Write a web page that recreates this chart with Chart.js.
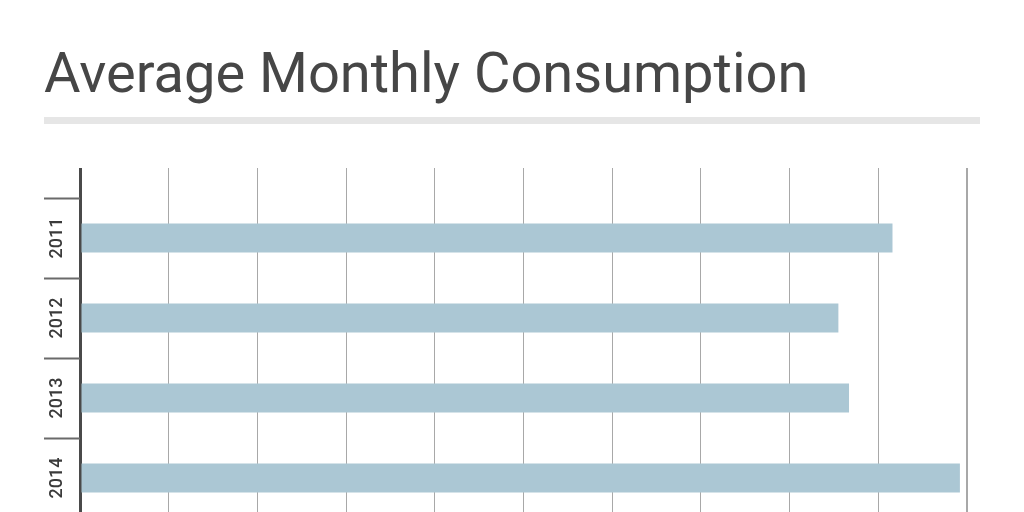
<!DOCTYPE html>
<html>
<head>
<meta charset="utf-8">
<script src="https://cdn.jsdelivr.net/npm/chart.js@4/dist/chart.umd.min.js"></script>
<style>
  html, body { margin: 0; padding: 0; background: #fff; overflow: hidden; }
  #title {
    position: absolute; left: 44px; top: 45px;
    font-family: Roboto, sans-serif; font-size: 56px; line-height: 1;
    color: #464646; white-space: nowrap; margin: 0; font-weight: 400;
  }
  #rule { position: absolute; left: 44px; top: 117px; width: 936px; height: 7px; background: #e6e6e6; }
  #wrap { position: absolute; left: 0; top: 0; width: 1024px; height: 518px; }
</style>
</head>
<body>
<h1 id="title">Average Monthly Consumption</h1>
<div id="rule"></div>
<div id="wrap"><canvas id="canvas" width="1024" height="518"></canvas></div>
<script>
const years = ['2011', '2012', '2013', '2014'];
const consumption = [91.6, 85.5, 86.7, 99.2];
const axisMin = 0;
const axisMax = 100;
const axisStep = 10;

const ctx = document.getElementById('canvas').getContext('2d');

const data = {
  labels: years,
  datasets: [{
    label: 'Average Monthly Consumption',
    data: consumption,
    backgroundColor: '#abc7d4',
    borderWidth: 0,
    categoryPercentage: 1,
    barPercentage: 0.36
  }]
};

const options = {
  indexAxis: 'y',
  responsive: false,
  animation: false,
  layout: { padding: { top: 168, left: 44, right: 57, bottom: 0 } },
  plugins: { legend: { display: false }, tooltip: { enabled: false }, title: { display: false } },
  scales: {
    x: {
      position: 'top',
      min: axisMin,
      max: axisMax,
      ticks: { display: false, stepSize: axisStep },
      border: { display: false },
      grid: {
        tickLength: 30,
        color: c => c.index === 0 ? '#4a4a4a' : '#a8a8a8',
        lineWidth: c => c.index === 0 ? 3 : (c.tick && c.tick.value === axisMax ? 2 : 1)
      }
    },
    y: {
      border: { display: false },
      grid: {
        drawOnChartArea: false,
        tickLength: 36,
        tickColor: '#6a6a6a',
        tickWidth: 2
      },
      ticks: {
        minRotation: 90,
        maxRotation: 90,
        crossAlign: 'center',
        padding: -34,
        color: '#3a3a3a',
        font: { family: 'Roboto', size: 18, weight: 500 }
      },
      afterFit: scale => { scale.width = 36; }
    }
  }
};

function graph() {
  new Chart(ctx, { type: 'bar', data: data, options: options });
}
graph();
</script>
</body>
</html>
